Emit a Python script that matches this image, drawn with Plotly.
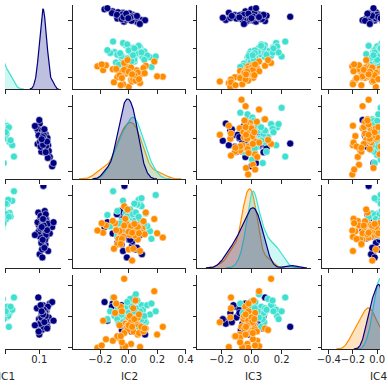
import numpy as np
import plotly.graph_objects as go

W = H = 388

species = ["setosa", "versicolor", "virginica"]
colors = {"setosa": "#000080", "versicolor": "#40E0D0", "virginica": "#FF8C00"}
fills = {"setosa": "rgba(0,0,128,0.25)", "versicolor": "rgba(64,224,208,0.25)",
         "virginica": "rgba(255,140,0,0.25)"}
variables = ["IC1", "IC2", "IC3", "IC4"]

ic1_setosa = [0.112, 0.105, 0.118, 0.099, 0.121, 0.108, 0.114, 0.095, 0.126, 0.110,
              0.103, 0.117, 0.109, 0.131, 0.101, 0.113, 0.122, 0.097, 0.107, 0.115,
              0.119, 0.104, 0.111, 0.128, 0.100, 0.116, 0.106, 0.124, 0.112, 0.093,
              0.120, 0.108, 0.138, 0.102, 0.114, 0.109, 0.125, 0.098, 0.117, 0.106,
              0.113, 0.087, 0.119, 0.110, 0.142, 0.104, 0.115, 0.111, 0.123, 0.107]
ic2_setosa = [0.015, 0.043, -0.050, 0.068, -0.078, -0.035, 0.025, -0.033, -0.040, 0.060,
              -0.012, 0.003, -0.078, -0.113, 0.093, -0.018, -0.020, 0.043, -0.048, -0.083,
              0.028, 0.015, 0.023, -0.075, 0.115, -0.060, 0.025, 0.005, -0.030, 0.063,
              -0.045, 0.050, -0.170, -0.020, 0.045, -0.013, -0.118, 0.020, -0.013, -0.080,
              0.023, 0.078, -0.083, 0.010, -0.150, -0.050, 0.058, -0.038, -0.018, -0.003]
ic3_setosa = [-0.02, 0.05, -0.11, 0.01, -0.06, 0.08, -0.03, 0.03, -0.15, 0.00,
              0.06, -0.08, 0.02, -0.04, -0.17, 0.04, -0.01, 0.09, -0.07, 0.02,
              -0.05, 0.07, -0.12, 0.01, -0.02, 0.10, -0.09, 0.03, 0.257, -0.04,
              0.05, -0.14, 0.00, -0.06, 0.04, -0.19, 0.02, -0.03, 0.06, -0.10,
              0.01, -0.05, 0.08, -0.08, 0.03, -0.01, -0.13, 0.05, -0.02, 0.00]
ic4_setosa = [0.01, -0.04, 0.06, -0.02, 0.03, -0.08, 0.00, 0.05, -0.03, 0.02,
              -0.06, 0.04, -0.01, 0.08, -0.05, 0.02, -0.02, 0.12, -0.09, 0.01,
              0.03, -0.04, 0.07, -0.01, -0.12, 0.04, 0.00, -0.07, -0.07, 0.05,
              -0.03, 0.02, 0.09, -0.05, 0.01, -0.02, 0.06, -0.10, 0.03, -0.01,
              0.04, -0.06, 0.00, 0.02, -0.03, 0.07, -0.04, 0.01, -0.08, 0.03]

ic1_versicolor = [-0.020, -0.035, 0.005, -0.012, -0.045, -0.028, 0.012, -0.018, -0.052, -0.008,
                  -0.030, 0.020, -0.040, -0.015, -0.025, 0.002, -0.060, -0.022, -0.010, -0.033,
                  0.008, -0.048, -0.019, -0.027, 0.015, -0.038, -0.005, -0.031, -0.014, -0.056,
                  0.003, -0.024, -0.042, -0.011, 0.025, -0.036, -0.017, -0.029, -0.064, -0.006,
                  -0.021, 0.010, -0.044, -0.026, -0.013, -0.034, 0.001, -0.039, -0.016, -0.023]
ic2_versicolor = [0.02, -0.05, 0.08, -0.10, 0.04, 0.12, -0.02, 0.06, -0.08, 0.01,
                  0.15, -0.04, 0.03, -0.13, 0.09, 0.00, -0.06, 0.05, 0.11, -0.03,
                  0.07, -0.09, 0.02, 0.19, -0.01, 0.04, -0.15, 0.10, 0.06, -0.07,
                  0.03, 0.13, -0.02, 0.08, -0.11, 0.01, 0.05, -0.04, 0.16, 0.00,
                  -0.08, 0.07, 0.02, -0.05, 0.09, -0.01, 0.04, 0.11, -0.06, 0.03]
ic3_versicolor = [-0.016, 0.034, 0.144, 0.020, -0.006, 0.085, 0.088, 0.018, -0.050, 0.110,
                  -0.026, 0.164, 0.004, 0.004, 0.130, 0.048, -0.056, 0.050, -0.006, -0.002,
                  0.170, 0.018, -0.014, 0.200, 0.065, -0.002, 0.075, -0.008, 0.140, 0.012,
                  0.080, 0.006, 0.050, 0.042, 0.224, -0.018, 0.090, 0.016, -0.074, 0.022,
                  0.100, 0.064, -0.004, -0.018, 0.180, 0.026, 0.146, 0.016, 0.022, 0.008]
ic4_versicolor = [0.03, -0.01, 0.06, 0.00, 0.09, -0.04, 0.02, 0.05, -0.02, 0.11,
                  0.01, 0.04, -0.06, 0.03, 0.07, -0.01, 0.02, 0.14, -0.03, 0.05,
                  0.00, 0.08, -0.09, 0.03, 0.06, 0.01, -0.02, 0.04, 0.10, -0.05,
                  0.02, 0.07, -0.01, 0.03, 0.12, 0.00, 0.05, -0.04, 0.08, 0.02,
                  0.04, -0.07, 0.06, 0.01, -0.02, 0.09, 0.03, 0.00, 0.05, -0.03]

ic1_virginica = [-0.082, -0.095, -0.070, -0.110, -0.060, -0.088, -0.102, -0.075, -0.120, -0.065,
                 -0.091, -0.078, -0.134, -0.085, -0.050, -0.098, -0.072, -0.115, -0.080, -0.092,
                 -0.062, -0.105, -0.087, -0.045, -0.100, -0.076, -0.125, -0.083, -0.068, -0.094,
                 -0.108, -0.058, -0.089, -0.079, -0.112, -0.071, -0.097, -0.040, -0.084, -0.103,
                 -0.066, -0.118, -0.086, -0.074, -0.093, -0.055, -0.107, -0.081, -0.128, -0.090]
ic2_virginica = [-0.024, 0.064, -0.096, 0.016, 0.120, -0.056, 0.032, -0.180, 0.080, -0.008,
                 0.048, -0.072, 0.000, 0.096, -0.032, 0.240, -0.112, 0.024, -0.048, 0.072,
                 -0.220, 0.040, -0.016, 0.180, -0.080, 0.056, -0.040, 0.008, 0.104, -0.064,
                 0.032, -0.160, 0.088, -0.024, 0.048, -0.088, 0.200, -0.008, 0.064, -0.048,
                 0.016, -0.104, 0.112, -0.032, 0.040, -0.190, 0.072, 0.000, -0.056, 0.024]
ic3_virginica = [0.012, -0.078, 0.024, -0.027, 0.090, -0.041, 0.012, -0.036, -0.150, 0.016,
                 0.014, -0.075, -0.140, -0.010, 0.130, -0.066, 0.038, -0.210, -0.019, -0.005,
                 -0.022, -0.053, 0.021, 0.050, -0.110, 0.014, -0.061, -0.049, 0.036, -0.025,
                 -0.136, 0.010, -0.034, 0.051, -0.022, -0.020, -0.039, 0.110, 0.000, -0.075,
                 0.005, -0.136, -0.046, 0.009, 0.019, 0.024, -0.039, -0.029, -0.106, -0.036]
ic4_virginica = [-0.05, -0.12, 0.02, -0.18, -0.08, 0.06, -0.10, -0.03, -0.20, -0.06,
                 0.10, -0.14, -0.01, -0.09, 0.24, -0.07, -0.16, -0.04, 0.03, -0.11,
                 -0.205, -0.02, -0.08, 0.16, -0.13, -0.05, -0.20, 0.00, -0.10, -0.06,
                 0.05, -0.15, -0.07, -0.195, -0.03, 0.08, -0.12, -0.09, -0.01, -0.17,
                 -0.04, 0.12, -0.08, -0.11, -0.02, -0.19, 0.01, -0.06, -0.13, -0.07]

data = {
    "setosa": [ic1_setosa, ic2_setosa, ic3_setosa, ic4_setosa],
    "versicolor": [ic1_versicolor, ic2_versicolor, ic3_versicolor, ic4_versicolor],
    "virginica": [ic1_virginica, ic2_virginica, ic3_virginica, ic4_virginica],
}

tick_values = {"IC1": [-0.1, 0.0, 0.1], "IC2": [-0.4, -0.2, 0.0, 0.2, 0.4],
               "IC3": [-0.4, -0.2, 0.0, 0.2, 0.4], "IC4": [-0.4, -0.2, 0.0, 0.2, 0.4]}

# ---- layout geometry (pixels in the 388x388 window) ----
COL_PX = [(-59, 58), (70, 187), (199, 317), (328, 445)]
ROW_PX = [(5, 89), (95, 179), (185, 268), (275, 349)]
TITLE_X = [2, 128.5, 257, 386.5]
TITLE_Y = 376
# pixel of value 0 and pixels per unit, per variable on x and y
X_CAL = [(0.5, 350.0), (128.0, 147.0), (255.0, 156.0), (385.0, 125.0)]
Y_CAL = [(48.7, 285.0), (138.7, 162.5), (227.0, 160.0), (316.0, 155.0)]

AX = "#262626"
FONT = "DejaVu Sans"


def kde(vals):
    v = np.asarray(vals, float)
    n = len(v)
    bw = v.std(ddof=1) * n ** (-1 / 5)
    grid = np.linspace(v.min() - 3 * bw, v.max() + 3 * bw, 200)
    dens = np.exp(-0.5 * ((grid[:, None] - v[None, :]) / bw) ** 2).sum(1) / (n * bw * np.sqrt(2 * np.pi))
    return grid, dens / len(species)


def fmt(v):
    return f"{v:.1f}".replace("-", "\u2212")


fig = go.Figure()
layout = dict(width=W, height=H, margin=dict(l=0, r=0, t=0, b=0),
              paper_bgcolor="white", plot_bgcolor="white", showlegend=False,
              font=dict(family=FONT, size=10, color=AX))
annotations = []

for r in range(4):
    for c in range(4):
        k = r * 4 + c + 1
        xa, xb = COL_PX[c]
        lo_px, hi_px = max(xa, 0), min(xb, W)
        z, s = X_CAL[c]
        xrange = [(lo_px - z) / s, (hi_px - z) / s]
        ya, yb = ROW_PX[r]
        zy, sy = Y_CAL[r]
        yrange = [(zy - yb) / sy, (zy - ya) / sy]
        xt = tick_values[variables[c]]
        yt = tick_values[variables[r]]
        ytick_pos = yt
        if r == c:
            curves = {sp: kde(data[sp][c]) for sp in species}
            ymax = max(curves[sp][1].max() for sp in species) * 1.05
            # row-variable ticks drawn on the density axis at the same pixel rows
            ytick_pos = [(yb - (zy - t * sy)) / (yb - ya) * ymax for t in yt]
            yrange = [0, ymax]
        layout[f"xaxis{k}"] = dict(
            domain=[lo_px / W, hi_px / W], range=xrange, anchor=f"y{k}",
            showgrid=False, zeroline=False, showline=True, linecolor=AX, linewidth=1,
            ticks="outside", ticklen=3.5, tickwidth=1, tickcolor=AX,
            tickvals=xt, ticktext=[fmt(v) for v in xt], tickangle=0,
            ticklabelstandoff=-3,
            showticklabels=(r == 3), tickfont=dict(family=FONT, size=10, color=AX))
        layout[f"yaxis{k}"] = dict(
            domain=[1 - yb / H, 1 - ya / H], range=yrange, anchor=f"x{k}",
            showgrid=False, zeroline=False, showline=(c != 0), linecolor=AX, linewidth=1,
            ticks=("outside" if c != 0 else ""), ticklen=3.5, tickwidth=1, tickcolor=AX,
            tickvals=ytick_pos, showticklabels=False)

        if r == c:
            for sp in reversed(species):
                gx, gy = curves[sp]
                fig.add_trace(go.Scatter(
                    x=gx, y=gy, mode="lines", xaxis=f"x{k}", yaxis=f"y{k}",
                    line=dict(color=colors[sp], width=1.2), fill="tozeroy",
                    fillcolor=fills[sp], hoverinfo="skip"))
        else:
            for sp in species:
                fig.add_trace(go.Scatter(
                    x=data[sp][c], y=data[sp][r], mode="markers",
                    xaxis=f"x{k}", yaxis=f"y{k}",
                    marker=dict(size=7, color=colors[sp],
                                line=dict(color="white", width=0.5))))

for c in range(4):
    annotations.append(dict(text=variables[c], xref="paper", yref="paper",
                            x=TITLE_X[c] / W, y=1 - TITLE_Y / H,
                            xanchor="center", yanchor="middle", showarrow=False,
                            font=dict(family=FONT, size=10.5, color=AX)))

layout["annotations"] = annotations
fig.update_layout(**layout)
fig.write_html("out.html", config={"displayModeBar": False},
               post_script="document.body.style.margin='0';document.body.style.overflow='hidden';")
